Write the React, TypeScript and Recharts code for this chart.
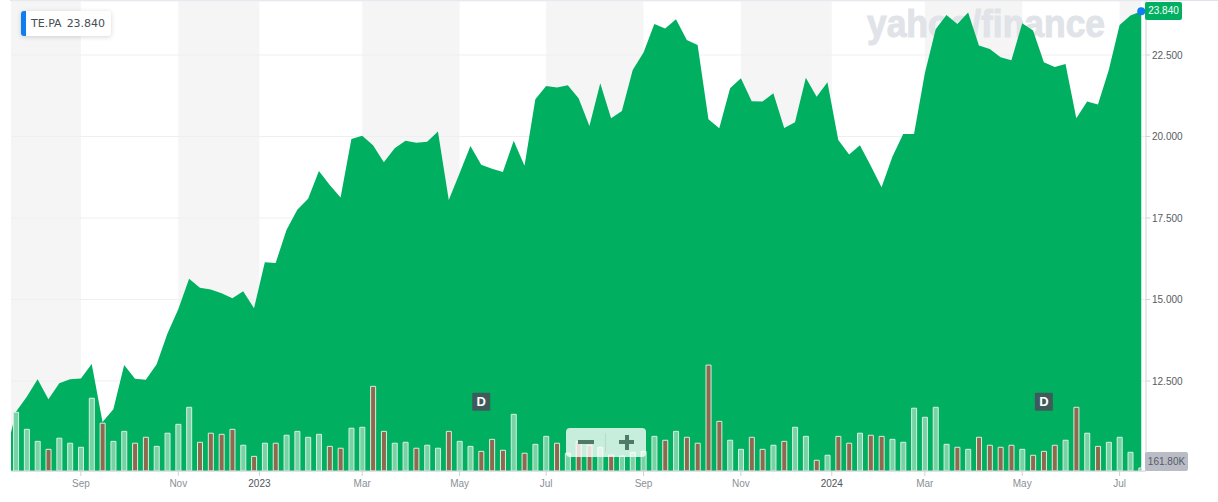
import React from 'react';
import {
  ComposedChart,
  Area,
  Bar,
  Cell,
  XAxis,
  YAxis,
  CartesianGrid,
  ReferenceArea,
  ReferenceDot,
} from 'recharts';

// first price is the session just off the left edge, it only sets the slope of the clipped start
const prices = [
  10.17, 11.56, 12.02, 12.55, 11.94, 12.43, 12.55, 12.58, 13.02, 11.24, 11.63, 12.99, 12.57, 12.54, 13.01, 13.96,
  14.70, 15.64, 15.36, 15.31, 15.19, 15.04, 15.25, 14.73, 16.14, 16.12, 17.13, 17.75, 18.09, 18.94, 18.51, 18.13,
  19.92, 20.02, 19.73, 19.21, 19.64, 19.87, 19.81, 19.84, 20.15, 18.05, 18.87, 19.71, 19.13, 19.01, 18.91, 19.87,
  19.10, 21.14, 21.55, 21.50, 21.57, 21.17, 20.32, 21.63, 20.56, 20.78, 22.04, 22.58, 23.45, 23.31, 23.60, 22.96,
  22.81, 20.53, 20.25, 21.48, 21.79, 21.08, 21.07, 21.33, 20.26, 20.44, 21.80, 21.22, 21.66, 19.89, 19.45, 19.73,
  19.10, 18.44, 19.38, 20.08, 20.08, 21.94, 23.29, 23.73, 23.45, 23.80, 22.79, 22.68, 22.43, 22.34, 23.47, 23.25,
  22.28, 22.13, 22.22, 20.56, 21.07, 20.98, 22.04, 23.42, 23.71, 23.84,
];

// volume in thousands
const volumes = [
  0, 3170, 2250, 1600, 1170, 1770, 1500, 1280, 3930, 2580, 1600, 2140, 1500, 1820, 1330, 2040, 2520, 3440, 1550, 2040,
  1980, 2250, 1390, 790, 1500, 1500, 1930, 2140, 1820, 1980, 1330, 1230, 2310, 2360, 4570, 2140, 1500, 1550, 1230,
  1390, 1230, 2140, 1600, 1330, 1060, 1710, 1120, 3060, 960, 1440, 1870, 1500, 960, 1600, 1390, 1280, 860, 810, 1010,
  1060, 1870, 1660, 2140, 1820, 1500, 5720, 2680, 1660, 1170, 1820, 1170, 1390, 1600, 2360, 1870, 580, 850, 1870,
  1500, 2040, 1930, 1870, 1710, 1550, 3390, 2900, 3440, 1440, 1280, 1170, 1820, 1390, 1280, 1390, 1170, 850, 1060,
  1390, 1660, 3440, 2040, 1330, 1550, 1820, 1010, 161.8,
];

const downSessions = [
  3, 8, 11, 12, 17, 18, 19, 20, 22, 24, 29, 30, 33, 34, 37, 40, 43, 44, 45, 47, 50, 52, 53, 55, 60, 62, 63, 64, 65,
  68, 69, 71, 74, 76, 77, 79, 80, 87, 89, 90, 91, 92, 94, 95, 96, 98, 100,
];

const monthTicks = [6, 15, 22.5, 32, 41, 49, 58, 67, 75.4, 84, 93, 102];
const monthLabels = ['Sep', 'Nov', '2023', 'Mar', 'May', 'Jul', 'Sep', 'Nov', '2024', 'Mar', 'May', 'Jul'];
const monthBands = [
  [-0.46, 6],
  [15, 22.5],
  [32, 41],
  [49, 58],
  [67, 75.4],
  [84, 93],
  [102, 104],
];
const priceTicks = [12.5, 15, 17.5, 20, 22.5];
const dividendSessions = [43, 95];

const chartData = prices.map((price, i) => ({ session: i - 1, price, volume: volumes[i] }));

const GREEN = '#00b060';

const MonthTick = ({ x, y, payload }: any) => {
  const label = monthLabels[monthTicks.indexOf(payload.value)];
  const isYear = label.startsWith('20');
  return (
    <text x={x} y={y + 9} textAnchor="middle" fontSize={10} fill={isYear ? '#4f555b' : '#8b9096'}>
      {label}
    </text>
  );
};

const DividendFlag = ({ cx, cy }: any) => (
  <g>
    <rect x={cx - 9} y={cy - 9} width={18} height={18} rx={1} fill="#3f5a5b" />
    <text x={cx} y={cy + 4.5} textAnchor="middle" fontSize={13} fontWeight={700} fill="#fff">
      D
    </text>
  </g>
);

const App: React.FC = () => {
  return (
    <div
      style={{
        position: 'absolute',
        left: 0,
        top: 0,
        width: 1218,
        height: 502,
        background: '#fff',
        overflow: 'hidden',
        fontFamily: '"Liberation Sans", sans-serif',
      }}
    >
      <div style={{ position: 'absolute', left: 10, top: 0, width: 1208, height: 1, background: '#dfe3eb' }} />
      <ComposedChart
        width={1218}
        height={502}
        data={chartData}
        margin={{ top: 1, right: 0, bottom: 0, left: 11 }}
        style={{ fontFamily: '"Liberation Sans", sans-serif' }}
      >
        {monthBands.map(([from, to]) => (
          <ReferenceArea
            key={from}
            yAxisId="price"
            x1={from}
            x2={to}
            y1={9.739}
            y2={24.156}
            fill="#f5f5f6"
            fillOpacity={1}
            stroke="none"
            zIndex={-200}
          />
        ))}
        <CartesianGrid yAxisId="price" vertical={false} stroke="#eeeff1" />
        <text
          x={867}
          y={37}
          fontSize={38}
          fontWeight={700}
          fill="#e0e3e8"
          stroke="#e0e3e8"
          strokeWidth={1}
          textLength={238}
          lengthAdjust="spacingAndGlyphs"
        >
          yahoo/finance
        </text>
        <XAxis
          dataKey="session"
          type="number"
          domain={[-0.46, 104.44]}
          allowDataOverflow
          ticks={monthTicks}
          interval={0}
          height={31}
          stroke="#cfd2d6"
          tickSize={5}
          tick={<MonthTick />}
        />
        <YAxis
          yAxisId="price"
          orientation="right"
          domain={[9.739, 24.156]}
          allowDataOverflow
          ticks={priceTicks}
          interval={0}
          width={72}
          stroke="#cfd2d6"
          tickSize={4}
          tickMargin={2}
          tick={{ fontSize: 10, fill: '#565c62' }}
          tickFormatter={(value: number) => value.toFixed(3)}
        />
        <YAxis yAxisId="volume" hide domain={[0, 25380]} />
        <Area
          yAxisId="price"
          dataKey="price"
          type="linear"
          fill={GREEN}
          fillOpacity={1}
          stroke={GREEN}
          strokeWidth={0}
          dot={false}
          activeDot={false}
          isAnimationActive={false}
        />
        <Bar yAxisId="volume" dataKey="volume" barSize={5} isAnimationActive={false}>
          {chartData.map((row) => (
            <Cell
              key={row.session}
              fill={downSessions.includes(row.session) ? '#8d6a4c' : '#78d3a4'}
              stroke="#d5efe2"
              strokeWidth={1}
            />
          ))}
        </Bar>
        {/* the last bar stops at the edge of the price area */}
        <ReferenceArea
          yAxisId="volume"
          x1={104.03}
          x2={104.44}
          y1={0}
          y2={300}
          fill="#fff"
          fillOpacity={1}
          stroke="none"
          zIndex={350}
        />
        {dividendSessions.map((session) => (
          <ReferenceDot
            key={session}
            yAxisId="price"
            x={session}
            y={11.86}
            shape={<DividendFlag />}
            isFront
          />
        ))}
        <ReferenceDot
          yAxisId="price"
          x={104}
          y={23.84}
          r={4}
          fill="#0f7ef0"
          stroke="none"
          ifOverflow="visible"
          isFront
        />
      </ComposedChart>

      {/* symbol tag */}
      <div
        style={{
          position: 'absolute',
          left: 21,
          top: 11,
          width: 90,
          height: 25,
          boxSizing: 'border-box',
          paddingLeft: 5,
          background: '#fff',
          borderLeft: '5px solid #0f7ef0',
          borderRadius: 3,
          boxShadow: '0 1px 5px rgba(0,0,0,.16)',
          font: '11px/25px "DejaVu Sans", sans-serif',
          color: '#464e56',
          whiteSpace: 'nowrap',
        }}
      >
        <span>TE.PA</span>
        <span style={{ marginLeft: 5 }}>23.840</span>
      </div>

      {/* last price and last volume labels */}
      <div
        style={{
          position: 'absolute',
          left: 1145,
          top: 2,
          width: 37,
          height: 18,
          borderRadius: 2,
          background: GREEN,
          color: '#fff',
          fontSize: 10,
          lineHeight: '18px',
          textAlign: 'center',
        }}
      >
        23.840
      </div>
      <div
        style={{
          position: 'absolute',
          left: 1145,
          top: 452,
          width: 43,
          height: 19,
          borderRadius: 2,
          background: '#b9bcc6',
          color: '#565c62',
          fontSize: 10,
          lineHeight: '19px',
          textAlign: 'center',
        }}
      >
        161.80K
      </div>

      {/* zoom control */}
      <div
        style={{
          position: 'absolute',
          left: 566,
          top: 428,
          width: 80,
          height: 29,
          borderRadius: 4,
          background: 'rgba(255,255,255,.78)',
        }}
      >
        <div style={{ position: 'absolute', left: 12, top: 12, width: 16, height: 4, background: '#4f7a69' }} />
        <div style={{ position: 'absolute', left: 39, top: 5, width: 1, height: 19, background: '#b4dcc8' }} />
        <div style={{ position: 'absolute', left: 53, top: 12, width: 15, height: 4, background: '#4f7a69' }} />
        <div style={{ position: 'absolute', left: 58.5, top: 6.5, width: 4, height: 15, background: '#4f7a69' }} />
      </div>
    </div>
  );
};

export default App;
